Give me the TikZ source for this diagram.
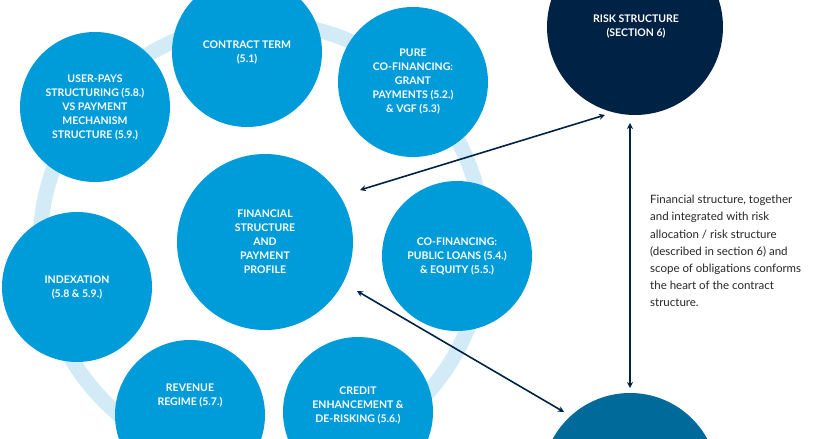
\documentclass[tikz,border=0pt]{standalone}
\usepackage{fontspec}
\setmainfont{Lato}
\usetikzlibrary{arrows.meta}
\definecolor{cblue}{HTML}{009CD9}
\definecolor{cring}{HTML}{D3EBF6}
\definecolor{cnavy}{HTML}{002244}
\definecolor{cteal}{HTML}{006A9A}
\begin{document}
\begin{tikzpicture}[x=1pt,y=-1pt,
  bub/.style={circle,fill=cblue,text=white,font=\bfseries\fontsize{10.5}{14}\selectfont,align=center,inner sep=0pt},
  arr/.style={draw=cnavy,line width=1.6pt,{Stealth[length=6pt,width=6pt]}-{Stealth[length=6pt,width=6pt]}}]
\useasboundingbox (0,0) rectangle (836,439);
\begin{scope}
\clip (0,0) rectangle (836,439);
\draw[cring,line width=15pt] (262,245) circle (222);
\node[bub,minimum size=150pt] (ct) at (247,52) {};
\node[font=\bfseries\fontsize{10.5}{14}\selectfont,text=white,align=center] at (247,52) {CONTRACT TERM\\(5.1)};
\node[bub,minimum size=150pt] (pc) at (413,82) {PURE\\CO-FINANCING:\\GRANT\\PAYMENTS (5.2.)\\\& VGF (5.3)};
\node[bub,minimum size=150pt] (up) at (95,107) {USER-PAYS\\STRUCTURING (5.8.)\\VS PAYMENT\\MECHANISM\\STRUCTURE (5.9.)};
\node[bub,minimum size=176pt] (fs) at (265,242) {FINANCIAL\\STRUCTURE\\AND\\PAYMENT\\PROFILE};
\node[bub,minimum size=150pt] (cf) at (457,256) {CO-FINANCING:\\PUBLIC LOANS (5.4.)\\\& EQUITY (5.5.)};
\node[bub,minimum size=150pt] (ix) at (77,287) {INDEXATION\\(5.8 \& 5.9.)};
\node[bub,minimum size=150pt] (rr) at (190,415) {};
\node[font=\bfseries\fontsize{10.5}{14}\selectfont,text=white,align=center] at (190,396) {REVENUE\\REGIME (5.7.)};
\node[bub,minimum size=150pt] (ce) at (358,412) {};
\node[font=\bfseries\fontsize{10.5}{14}\selectfont,text=white,align=center] at (358,405) {CREDIT\\ENHANCEMENT \&\\DE-RISKING (5.6.)};
\node[circle,fill=cnavy,minimum size=176pt,inner sep=0pt] (rs) at (635,27) {};
\node[font=\bfseries\fontsize{10.5}{14}\selectfont,text=white,align=center] at (636,26) {RISK STRUCTURE\\(SECTION 6)};
\node[circle,fill=cteal,minimum size=176pt,inner sep=0pt] (bt) at (630,481) {};
\end{scope}
\coordinate (a1) at (360,190); \coordinate (a2) at (605,115);
\coordinate (b1) at (357,291); \coordinate (b2) at (564,412);
\coordinate (c1) at (630,123); \coordinate (c2) at (630,388);
\draw[arr] (a1) -- (a2);
\draw[arr] (b1) -- (b2);
\draw[arr] (c1) -- (c2);
\node[anchor=north west,align=left,font=\fontsize{11.5}{17.2}\selectfont,text=black!85,inner sep=0pt] (tx) at (650,195) {Financial structure, together\\and integrated with risk\\allocation / risk structure\\(described in section 6) and\\scope of obligations conforms\\the heart of the contract\\structure.};
\end{tikzpicture}
\end{document}
